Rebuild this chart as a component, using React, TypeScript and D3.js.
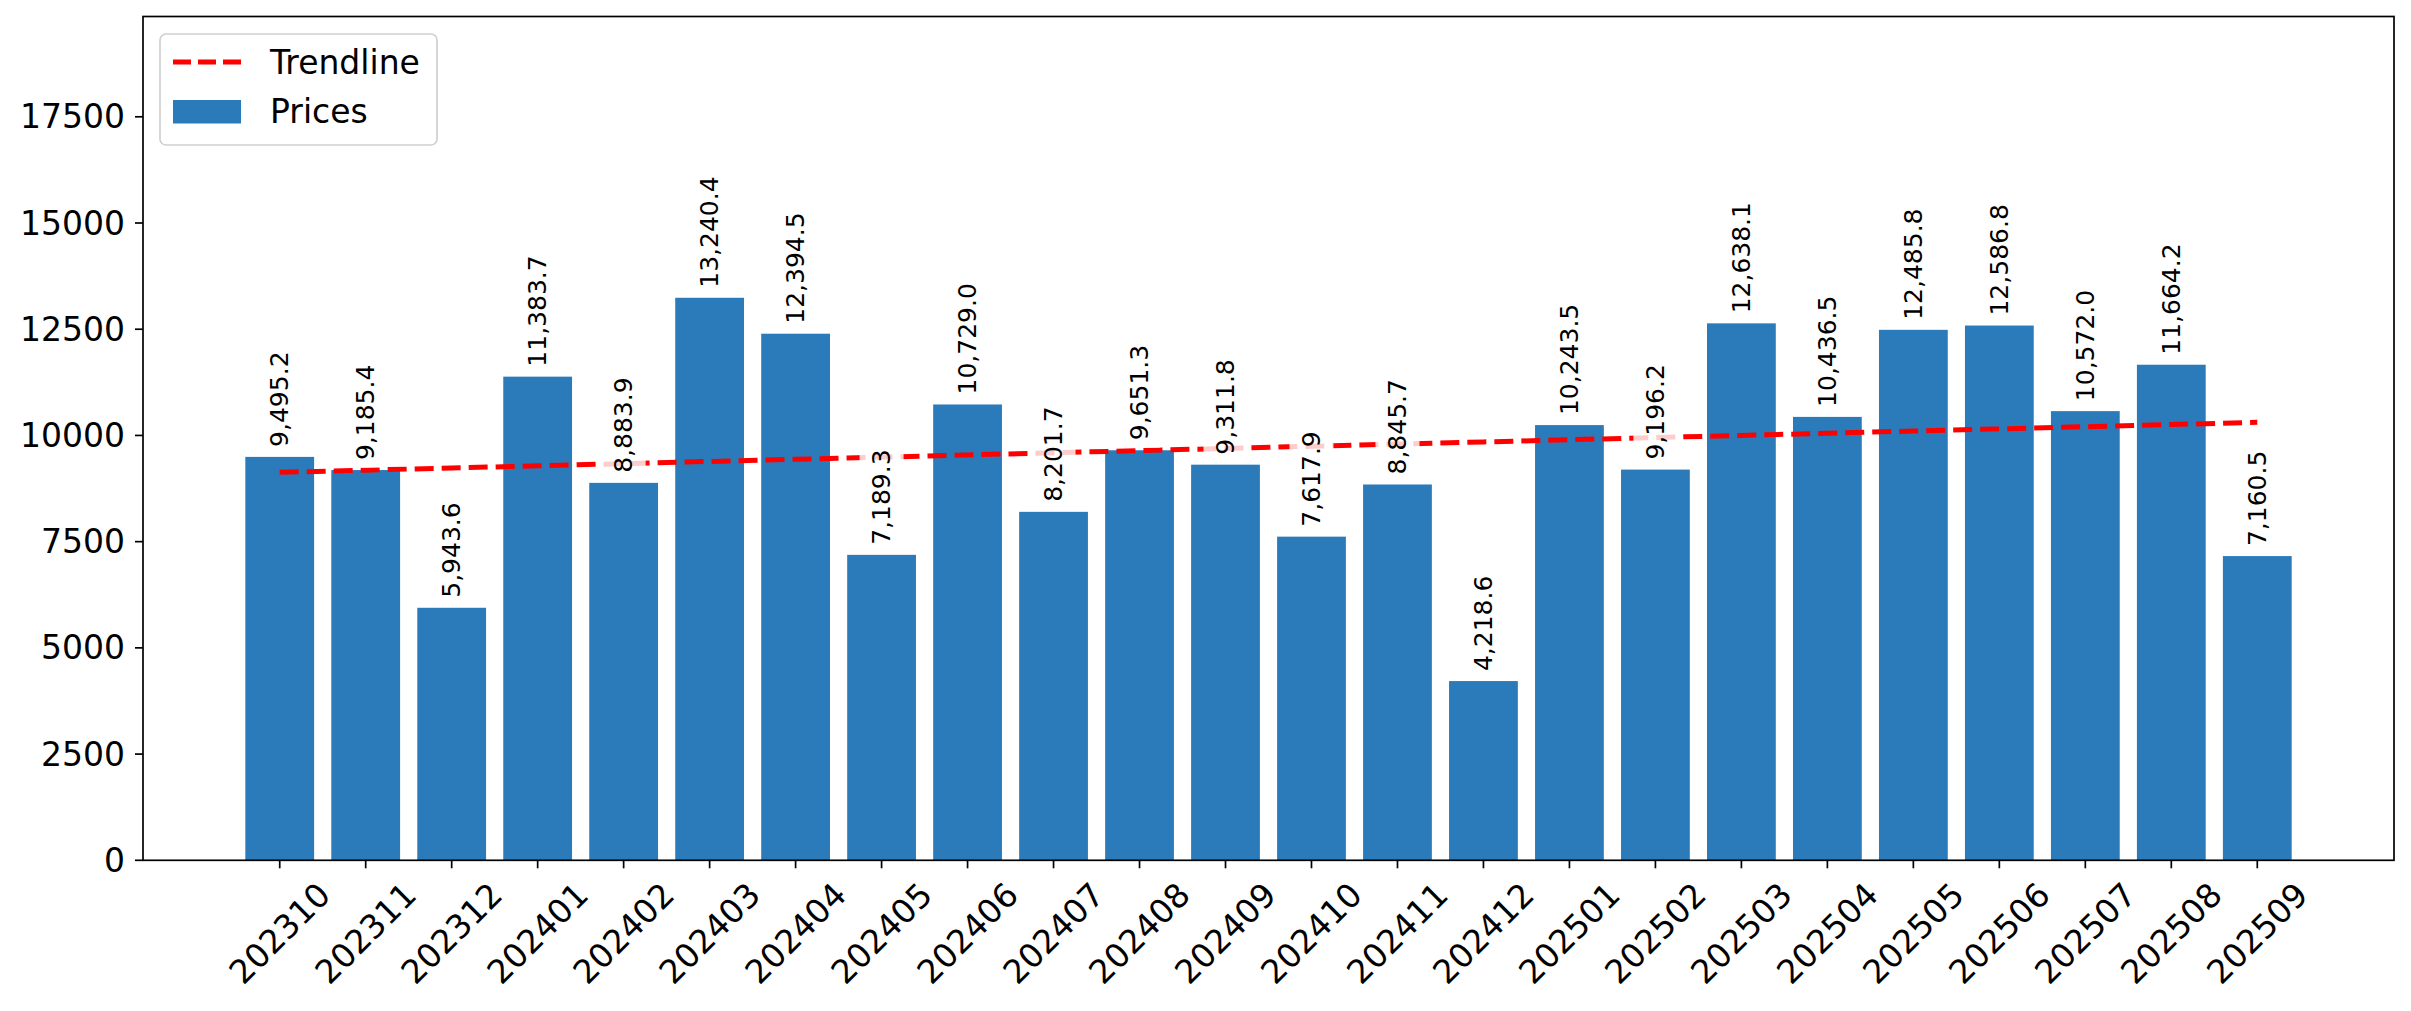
import React, { useEffect, useRef } from 'react';
import * as d3 from 'd3';

const months = [
  '202310', '202311', '202312', '202401', '202402', '202403', '202404', '202405',
  '202406', '202407', '202408', '202409', '202410', '202411', '202412', '202501',
  '202502', '202503', '202504', '202505', '202506', '202507', '202508', '202509',
];

const prices = [
  9495.2, 9185.4, 5943.6, 11383.7, 8883.9, 13240.4, 12394.5, 7189.3,
  10729.0, 8201.7, 9651.3, 9311.8, 7617.9, 8845.7, 4218.6, 10243.5,
  9196.2, 12638.1, 10436.5, 12485.8, 12586.8, 10572.0, 11664.2, 7160.5,
];

const yTicks = [0, 2500, 5000, 7500, 10000, 12500, 15000, 17500];

const W = 2411;
const H = 1011;
const FONT = '"DejaVu Sans", sans-serif';
const BAR_COLOR = '#2b7bba';

export default function App() {
  const svgRef = useRef<SVGSVGElement>(null);

  useEffect(() => {
    if (!svgRef.current) return;
    const svg = d3.select(svgRef.current);
    svg.selectAll('*').remove();

    const plot = { left: 143, right: 2394, top: 16.5, bottom: 860.3 };
    const n = prices.length;
    const barW = 0.8;
    const span = (n - 1) + barW;
    const lo = -barW / 2 - 0.05 * span;
    const hi = n - 1 + barW / 2 + 0.05 * span;

    const x = d3.scaleLinear().domain([lo, hi]).range([plot.left, plot.right]);
    const yMax = (d3.max(prices) as number) * 1.5;
    const y = d3.scaleLinear().domain([0, yMax]).range([plot.bottom, plot.top]);

    svg.append('rect').attr('width', W).attr('height', H).attr('fill', '#fff');

    // bars
    svg.append('g')
      .selectAll('rect')
      .data(prices)
      .join('rect')
      .attr('x', (_d, i) => x(i - barW / 2))
      .attr('width', x(barW) - x(0))
      .attr('y', d => y(d))
      .attr('height', d => y(0) - y(d))
      .attr('fill', BAR_COLOR);

    // least squares trendline
    const idx = prices.map((_d, i) => i);
    const mx = d3.mean(idx) as number;
    const my = d3.mean(prices) as number;
    const slope = d3.sum(idx, i => (i - mx) * (prices[i] - my)) / d3.sum(idx, i => (i - mx) ** 2);
    const icpt = my - slope * mx;
    const trend = idx.map(i => [i, icpt + slope * i] as [number, number]);

    svg.append('path')
      .datum(trend)
      .attr('fill', 'none')
      .attr('stroke', '#ff0000')
      .attr('stroke-width', 5)
      .attr('stroke-dasharray', '19,8')
      .attr('d', d3.line<[number, number]>().x(d => x(d[0])).y(d => y(d[1])));

    // value labels
    const fmt = d3.format(',.1f');
    const labels = svg.append('g')
      .selectAll('g')
      .data(prices)
      .join('g')
      .attr('transform', (d, i) => `translate(${x(i)},${y(d) - 10}) rotate(-90)`);

    const bg = labels.append('rect')
      .attr('fill', 'white')
      .attr('fill-opacity', 0.8)
      .attr('rx', 3);

    labels.append('text')
      .attr('x', 0)
      .attr('y', 0)
      .attr('dominant-baseline', 'central')
      .attr('font-family', FONT)
      .attr('font-size', 25)
      .attr('fill', '#000')
      .text(d => fmt(d));

    labels.each(function () {
      const g = d3.select(this);
      const t = (g.select('text').node() as SVGTextElement);
      const len = t.getComputedTextLength();
      const pad = 7.5;
      const h = 25 * 1.16;
      g.select('rect')
        .attr('x', -pad)
        .attr('y', -h / 2 - pad)
        .attr('width', len + 2 * pad)
        .attr('height', h + 2 * pad);
    });
    void bg;

    // axes box
    svg.append('rect')
      .attr('x', plot.left)
      .attr('y', plot.top)
      .attr('width', plot.right - plot.left)
      .attr('height', plot.bottom - plot.top)
      .attr('fill', 'none')
      .attr('stroke', '#000')
      .attr('stroke-width', 1.7);

    // y ticks
    const yAxis = svg.append('g');
    yTicks.forEach(t => {
      yAxis.append('line')
        .attr('x1', plot.left - 8).attr('x2', plot.left)
        .attr('y1', y(t)).attr('y2', y(t))
        .attr('stroke', '#000').attr('stroke-width', 1.7);
      yAxis.append('text')
        .attr('x', plot.left - 18)
        .attr('y', y(t))
        .attr('text-anchor', 'end')
        .attr('dominant-baseline', 'central')
        .attr('font-family', FONT)
        .attr('font-size', 33)
        .text(String(t));
    });

    // x ticks
    const xAxis = svg.append('g');
    months.forEach((m, i) => {
      xAxis.append('line')
        .attr('x1', x(i)).attr('x2', x(i))
        .attr('y1', plot.bottom).attr('y2', plot.bottom + 8)
        .attr('stroke', '#000').attr('stroke-width', 1.7);
      const fs = 33;
      const w = m.length * 0.636 * fs;
      const hgt = fs * 1.16;
      const cy = plot.bottom + 15 + ((w + hgt) * Math.SQRT1_2) / 2;
      xAxis.append('text')
        .attr('transform', `translate(${x(i)},${cy}) rotate(-45)`)
        .attr('text-anchor', 'middle')
        .attr('dominant-baseline', 'central')
        .attr('font-family', FONT)
        .attr('font-size', fs)
        .text(m);
    });

    // legend
    const lg = svg.append('g');
    lg.append('rect')
      .attr('x', 160).attr('y', 34)
      .attr('width', 277).attr('height', 111)
      .attr('rx', 6)
      .attr('fill', 'white').attr('fill-opacity', 0.8)
      .attr('stroke', '#d0d0d0').attr('stroke-width', 1.7);
    lg.append('line')
      .attr('x1', 173).attr('x2', 241)
      .attr('y1', 62).attr('y2', 62)
      .attr('stroke', '#ff0000').attr('stroke-width', 5)
      .attr('stroke-dasharray', '18,7');
    lg.append('rect')
      .attr('x', 173).attr('y', 100)
      .attr('width', 68).attr('height', 23.5)
      .attr('fill', BAR_COLOR);
    lg.append('text')
      .attr('x', 270).attr('y', 74)
      .attr('font-family', FONT).attr('font-size', 33)
      .text('Trendline');
    lg.append('text')
      .attr('x', 270).attr('y', 122.5)
      .attr('font-family', FONT).attr('font-size', 33)
      .text('Prices');
  }, []);

  return (
    <svg
      ref={svgRef}
      width={W}
      height={H}
      style={{ position: 'absolute', left: 0, top: 0, display: 'block' }}
    />
  );
}
